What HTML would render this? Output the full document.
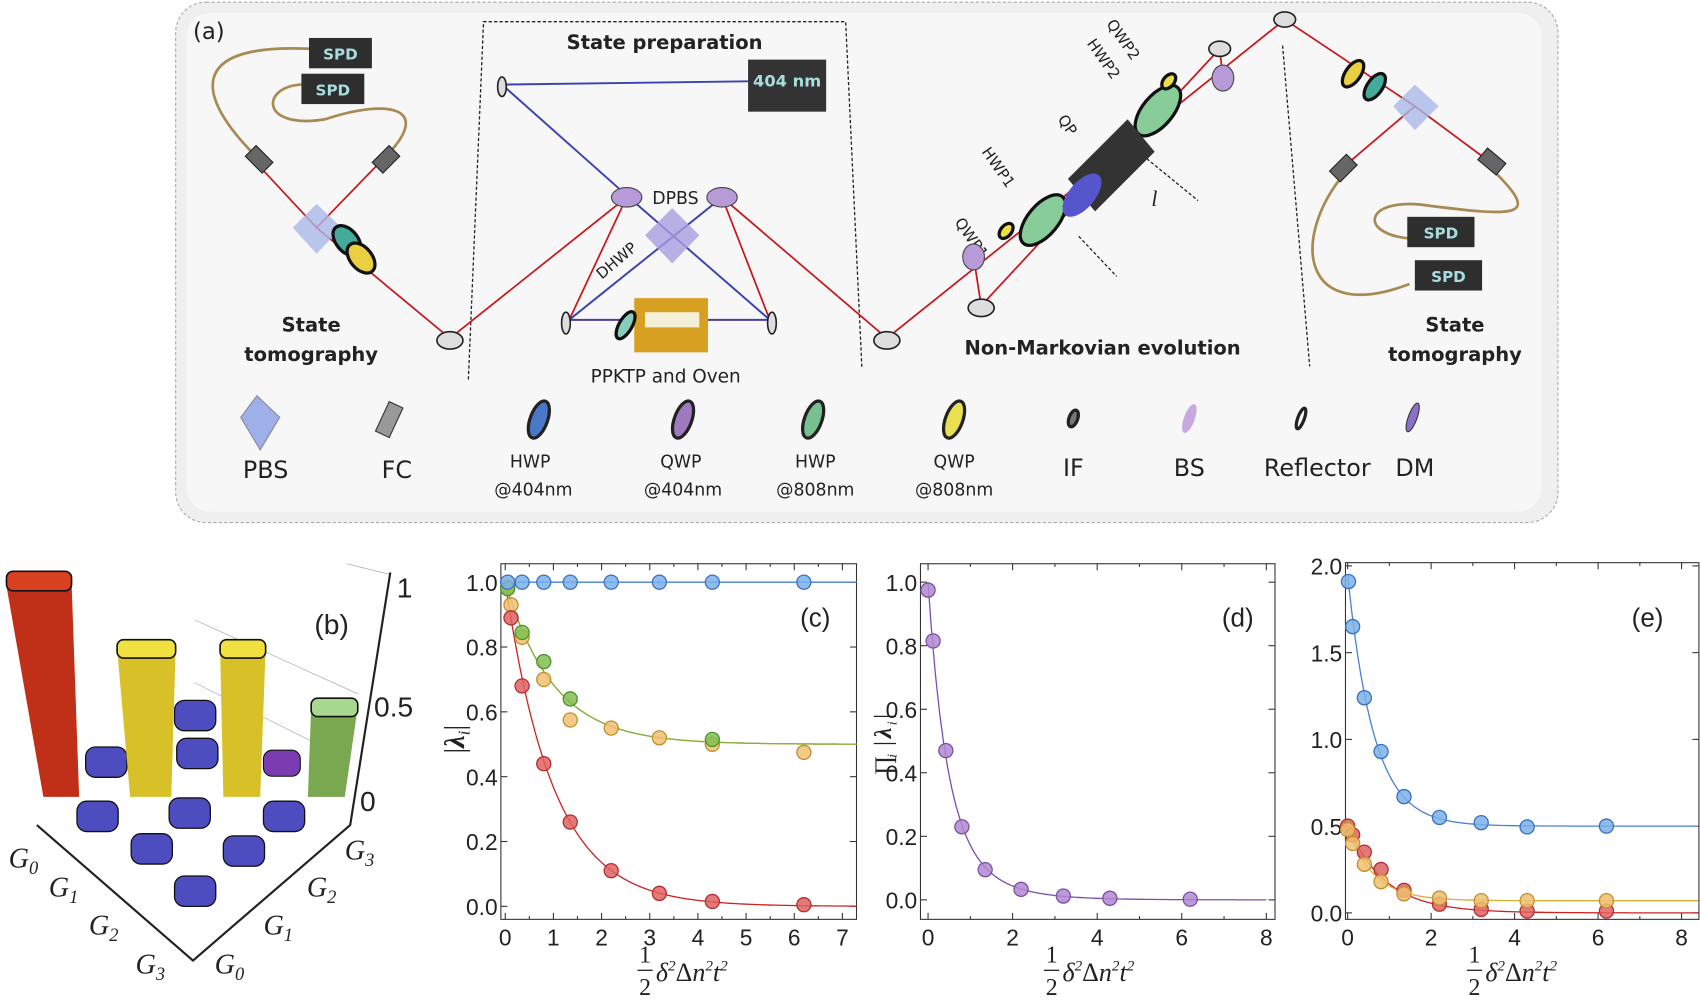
<!DOCTYPE html>
<html><head><meta charset="utf-8"><style>
html,body{margin:0;padding:0;background:#fff;width:1700px;height:1005px;overflow:hidden}
svg{display:block}
.t{font-family:"DejaVu Sans","Liberation Sans",sans-serif;fill:#222}
.n{font-family:"Liberation Sans Narrow","Liberation Sans",sans-serif;fill:#222}
.s{font-family:"Liberation Serif",serif;fill:#222}
</style></head><body>
<svg id="sv" width="1700" height="1005" viewBox="0 0 1568 927" preserveAspectRatio="none" xmlns="http://www.w3.org/2000/svg">
<rect x="162" y="2" width="1275" height="480" rx="28" fill="#efefef" stroke="#aaa" stroke-dasharray="3,2"/>
<rect x="172" y="12" width="1250" height="460" rx="22" fill="#f7f7f7"/>
<text x="178" y="36" class="t" font-size="21">(a)</text>
<g fill="none" stroke="#222" stroke-dasharray="3,2" stroke-width="1.2">
<path d="M432,350 L446,20 L780,20 L795,340"/><path d="M1183,42 L1208,338"/>
<path d="M1050,140 L1105,185"/><path d="M995,218 L1030,255"/>
</g>
<g class="t" font-weight="bold" font-size="18" text-anchor="middle">
<text x="613" y="45">State preparation</text>
<text x="287" y="306">State</text><text x="287" y="333">tomography</text>
<text x="1342" y="306">State</text><text x="1342" y="333">tomography</text>
<text x="1017" y="327" font-weight="bold">Non-Markovian evolution</text>
</g>
<text x="614" y="353" class="t" font-size="17" text-anchor="middle">PPKTP and Oven</text>
<text x="623" y="188" class="t" font-size="16" text-anchor="middle">DPBS</text>
<text x="555" y="258" class="t" font-size="14" transform="rotate(-40 555 258)">DHWP</text>
<text x="880" y="205" class="t" font-size="14" transform="rotate(55 880 205)">QWP1</text>
<text x="905" y="140" class="t" font-size="14" transform="rotate(55 905 140)">HWP1</text>
<text x="975" y="110" class="t" font-size="14" transform="rotate(55 975 110)">QP</text>
<text x="1002" y="40" class="t" font-size="14" transform="rotate(55 1002 40)">HWP2</text>
<text x="1020" y="22" class="t" font-size="14" transform="rotate(55 1020 22)">QWP2</text>
<text x="1062" y="190" class="s" font-size="20" font-style="italic">l</text>
<g fill="none" stroke="#a88a55" stroke-width="2.5">
<path d="M240,148 C180,90 170,40 285,45"/><path d="M355,145 C400,100 360,90 300,110 C240,120 240,80 278,78"/>
<path d="M1240,160 C1190,220 1200,300 1300,262"/><path d="M1380,160 C1420,200 1400,200 1320,190 C1260,180 1250,215 1300,220"/>
</g>
<g fill="none" stroke="#c8161d" stroke-width="1.6">
<path d="M238,152 L292,210 L355,145"/><path d="M292,210 L415,312 L578,182"/>
<path d="M666,182 L818,312 L1185,18 L1305,98 L1375,150"/><path d="M1305,98 L1238,155"/>
<path d="M898,237 L905,282 L1125,45 L1128,72"/>
<path d="M578,182 L525,295 L710,295 L666,182"/>
</g>
<g fill="none" stroke="#3a44b0" stroke-width="1.8">
<path d="M690,75 L463,78 L580,182"/><path d="M580,182 L710,295 M666,182 L525,295 L710,295"/>
</g>
<rect x="285" y="35" width="58" height="28" fill="#2e2e2e"/><text x="314" y="55" class="t" font-size="14" font-weight="bold" text-anchor="middle" style="fill:#a8dde0">SPD</text>
<rect x="278" y="68" width="58" height="28" fill="#2e2e2e"/><text x="307" y="88" class="t" font-size="14" font-weight="bold" text-anchor="middle" style="fill:#a8dde0">SPD</text>
<rect x="1298" y="200" width="62" height="28" fill="#2e2e2e"/><text x="1329" y="220" class="t" font-size="14" font-weight="bold" text-anchor="middle" style="fill:#a8dde0">SPD</text>
<rect x="1305" y="240" width="62" height="28" fill="#2e2e2e"/><text x="1336" y="260" class="t" font-size="14" font-weight="bold" text-anchor="middle" style="fill:#a8dde0">SPD</text>
<rect x="690" y="55" width="72" height="48" fill="#333"/><text x="726" y="80" class="t" font-size="15" font-weight="bold" text-anchor="middle" style="fill:#a8dde0">404 nm</text>
<rect x="585" y="275" width="68" height="50" fill="#d8a020"/><rect x="595" y="288" width="50" height="14" fill="#f4f0d8"/>
<polygon points="620,192 645,217 620,243 595,217" fill="#a89ee0" opacity=".8"/>
<polygon points="292,188 315,210 292,234 270,210" fill="#aab8e8" opacity=".8"/>
<polygon points="1305,78 1327,98 1305,120 1285,98" fill="#aab8e8" opacity=".8"/>
<g stroke="#111" stroke-width="3">
<ellipse cx="320" cy="222" rx="10" ry="16" fill="#4a9" transform="rotate(-40 320 222)"/>
<ellipse cx="333" cy="238" rx="10" ry="16" fill="#e8d040" transform="rotate(-40 333 238)"/>
<ellipse cx="1248" cy="68" rx="7" ry="14" fill="#e8d040" transform="rotate(35 1248 68)"/>
<ellipse cx="1268" cy="80" rx="7" ry="14" fill="#4a9" transform="rotate(35 1268 80)"/>
<ellipse cx="962" cy="203" rx="14" ry="28" fill="#8c9" transform="rotate(40 962 203)"/>
<ellipse cx="1068" cy="102" rx="14" ry="28" fill="#8c9" transform="rotate(40 1068 102)"/>
<ellipse cx="928" cy="213" rx="5" ry="8" fill="#ed4" transform="rotate(40 928 213)"/>
<ellipse cx="1078" cy="75" rx="5" ry="8" fill="#ed4" transform="rotate(40 1078 75)"/>
<ellipse cx="577" cy="300" rx="6" ry="14" fill="#8cb" transform="rotate(30 577 300)"/>
</g>
<path d="M985,165 L1040,110 L1065,140 L1010,195 Z" fill="#333"/>
<ellipse cx="998" cy="180" rx="12" ry="24" fill="#55c" transform="rotate(40 998 180)"/>
<g fill="#b89ad8" stroke="#444"><ellipse cx="578" cy="182" rx="14" ry="9"/><ellipse cx="666" cy="182" rx="14" ry="9"/><ellipse cx="898" cy="237" rx="10" ry="12"/><ellipse cx="1128" cy="72" rx="10" ry="12"/></g>
<g fill="#ddd" stroke="#222" stroke-width="1.5"><ellipse cx="415" cy="314" rx="12" ry="8"/><ellipse cx="818" cy="314" rx="12" ry="8"/><ellipse cx="905" cy="284" rx="12" ry="8"/><ellipse cx="1185" cy="18" rx="10" ry="7"/><ellipse cx="1125" cy="45" rx="10" ry="7"/><ellipse cx="463" cy="80" rx="4" ry="9"/><ellipse cx="522" cy="298" rx="4" ry="10"/><ellipse cx="712" cy="298" rx="4" ry="10"/></g>
<g fill="#666" stroke="#222"><rect x="228" y="140" width="22" height="14" transform="rotate(45 239 147)"/><rect x="345" y="140" width="22" height="14" transform="rotate(-45 356 147)"/><rect x="1228" y="148" width="22" height="14" transform="rotate(-45 1239 155)"/><rect x="1365" y="142" width="22" height="14" transform="rotate(40 1376 149)"/></g>
<polygon points="237,365 258,385 240,415 222,385" fill="#9fb0e8" stroke="#889"/>
<rect x="352" y="372" width="14" height="30" fill="#999" stroke="#333" transform="rotate(25 359 387)"/>
<g stroke="#222" stroke-width="3">
<ellipse cx="497" cy="387" rx="8" ry="18" fill="#4a78c8" transform="rotate(20 497 387)"/>
<ellipse cx="630" cy="387" rx="8" ry="18" fill="#a07ac0" transform="rotate(20 630 387)"/>
<ellipse cx="750" cy="387" rx="8" ry="18" fill="#77c090" transform="rotate(20 750 387)"/>
<ellipse cx="880" cy="387" rx="8" ry="18" fill="#e8e050" transform="rotate(20 880 387)"/>
<ellipse cx="990" cy="386" rx="4" ry="8" fill="#777" transform="rotate(20 990 386)"/>
<ellipse cx="1200" cy="386" rx="3" ry="10" fill="#fff" transform="rotate(20 1200 386)"/>
</g>
<ellipse cx="1097" cy="386" rx="5" ry="14" fill="#c8a8e0" transform="rotate(20 1097 386)"/>
<ellipse cx="1303" cy="385" rx="4" ry="14" fill="#8a70c8" stroke="#333" transform="rotate(20 1303 385)"/>
<g class="t" font-size="22" text-anchor="middle"><text x="245" y="441">PBS</text><text x="366" y="441">FC</text><text x="990" y="439">IF</text><text x="1097" y="439">BS</text><text x="1215" y="439">Reflector</text><text x="1305" y="439">DM</text></g>
<g class="t" font-size="16" text-anchor="middle"><text x="489" y="431">HWP</text><text x="492" y="457">@404nm</text><text x="628" y="431">QWP</text><text x="630" y="457">@404nm</text><text x="752" y="431">HWP</text><text x="752" y="457">@808nm</text><text x="880" y="431">QWP</text><text x="880" y="457">@808nm</text></g>

<g stroke="#444" stroke-width="0.6" fill="none" opacity=".5"><path d="M180,572 L330,640"/><path d="M320,520 L360,530"/><path d="M180,630 L320,700"/></g>
<path d="M34,761 L178,886 L323,761 L360,528" fill="none" stroke="#222" stroke-width="2"/>
<g class="n" font-size="26"><text x="366" y="551">1</text><text x="345" y="661">0.5</text><text x="332" y="748">0</text><text x="290" y="585">(b)</text></g>
<g id="squares"></g>
<polygon points="5,535 66,537 73,735 40,735" fill="#c03018"/><rect x="6" y="527" width="60" height="18" rx="6" fill="#d84020" stroke="#111" stroke-width="1.5"/>
<polygon points="108,598 162,598 158,735 120,735" fill="#d8c028"/><rect x="108" y="590" width="54" height="17" rx="6" fill="#f0e040" stroke="#111" stroke-width="1.5"/>
<polygon points="203,598 245,598 240,735 206,735" fill="#d8c028"/><rect x="203" y="590" width="42" height="17" rx="6" fill="#f0e040" stroke="#111" stroke-width="1.5"/>
<polygon points="287,652 330,652 318,735 284,735" fill="#7aa850"/><rect x="287" y="644" width="43" height="17" rx="6" fill="#a8d890" stroke="#111" stroke-width="1.5"/>
<g class="s" font-style="italic" font-size="26">
<text x="8" y="800">G<tspan font-size="17" dy="6">0</tspan></text><text x="45" y="827">G<tspan font-size="17" dy="6">1</tspan></text><text x="82" y="862">G<tspan font-size="17" dy="6">2</tspan></text><text x="125" y="898">G<tspan font-size="17" dy="6">3</tspan></text>
<text x="198" y="898">G<tspan font-size="17" dy="6">0</tspan></text><text x="243" y="862">G<tspan font-size="17" dy="6">1</tspan></text><text x="283" y="827">G<tspan font-size="17" dy="6">2</tspan></text><text x="318" y="793">G<tspan font-size="17" dy="6">3</tspan></text>
</g>
<g id="plots"></g>
</svg>
<script>
var NS="http://www.w3.org/2000/svg",P=document.getElementById('plots');
function el(t,a,txt,par){var e=document.createElementNS(NS,t);for(var k in a)e.setAttribute(k,a[k]);if(txt!=null)e.textContent=txt;(par||P).appendChild(e);return e;}
[[180,660],[98,703],[182,695],[90,753],[175,750],[262,753],[140,783],[225,785],[180,822]].forEach(function(p){
el('rect',{x:p[0]-19,y:p[1]-14,width:38,height:28,rx:9,fill:'#4d4dc0',stroke:'#111','stroke-width':1.2},null,document.getElementById('squares'));});
el('rect',{x:243,y:692,width:34,height:24,rx:8,fill:'#7a3cb0',stroke:'#111'},null,document.getElementById('squares'));
function panel(o){
 el('rect',{x:o.x0,y:o.y0,width:o.x1-o.x0,height:o.y1-o.y0,fill:'none',stroke:'#333','stroke-width':1});
 function X(v){return o.xa+o.xs*v} function Y(v){return o.ya-o.ys*v}
 o.xt.forEach(function(v){el('line',{x1:X(v),x2:X(v),y1:o.y1,y2:o.y1-6,stroke:'#333'});el('line',{x1:X(v),x2:X(v),y1:o.y0,y2:o.y0+6,stroke:'#333'});
  el('text',{x:X(v),y:o.y1+24,'class':'n','font-size':21,'text-anchor':'middle'},String(v));});
 o.yt.forEach(function(v){el('line',{x1:o.x0,x2:o.x0+6,y1:Y(v),y2:Y(v),stroke:'#333'});el('line',{x1:o.x1,x2:o.x1-6,y1:Y(v),y2:Y(v),stroke:'#333'});
  el('text',{x:o.x0-3,y:Y(v)+8,'class':'n','font-size':21,'text-anchor':'end'},v.toFixed(1));});
 o.mt.forEach(function(v){el('line',{x1:X(v),x2:X(v),y1:o.y1,y2:o.y1-3,stroke:'#333'});el('line',{x1:X(v),x2:X(v),y1:o.y0,y2:o.y0+3,stroke:'#333'});});
 o.ser.forEach(function(s){var d='';for(var v=0;v<=o.xmax;v+=0.02){d+=(d?'L':'M')+X(v).toFixed(1)+','+Y(s.f(v)).toFixed(1);}
  el('path',{d:d,fill:'none',stroke:s.lc,'stroke-width':1.2});});
 o.ser.forEach(function(s){s.p.forEach(function(p){el('circle',{cx:X(p[0]),cy:Y(p[1]),r:6.5,fill:s.fc,stroke:s.sc,'stroke-width':1.2,'fill-opacity':.85});});});
 el('text',{x:o.lx,y:578,'class':'n','font-size':24},o.lab);
 var cx=o.cx;
 el('text',{x:cx-8,y:888,'class':'s','font-size':22,'text-anchor':'middle'},'1');
 el('line',{x1:cx-15,x2:cx-1,y1:895,y2:895,stroke:'#222','stroke-width':1.2});
 el('text',{x:cx-8,y:918,'class':'s','font-size':22,'text-anchor':'middle'},'2');
 var t=el('text',{x:cx+2,y:905,'class':'s','font-size':24,'font-style':'italic'});
 t.innerHTML='δ<tspan font-size="14" dy="-10">2</tspan><tspan dy="10" font-style="normal">Δ</tspan>n<tspan font-size="14" dy="-10">2</tspan><tspan dy="10">t</tspan><tspan font-size="14" dy="-10">2</tspan>';
}
var E=Math.exp,bl={fc:'#7ab0e8',sc:'#3a70c0',lc:'#4a80d0'},rd={fc:'#e06060',sc:'#b03030',lc:'#d02020'},yl={fc:'#f0c070',sc:'#c09030',lc:'#d8b030'},gr={fc:'#80c050',sc:'#509030',lc:'#80b040'};
function S(b,f,p){return {fc:b.fc,sc:b.sc,lc:b.lc,f:f,p:p}}
panel({x0:462,x1:790,y0:520,y1:848,xa:466,xs:44.43,ya:836,ys:299,xmax:7.3,xt:[0,1,2,3,4,5,6,7],yt:[0,0.2,0.4,0.6,0.8,1.0],mt:[0.5,1.5,2.5,3.5,4.5,5.5,6.5],lab:'(c)',lx:738,cx:603,
 ser:[S(yl,function(x){return .5+.5*E(-x)},[[.05,.985],[.12,.93],[.35,.83],[.8,.70],[1.35,.575],[2.2,.55],[3.2,.52],[4.3,.50],[6.2,.475]]),
 S(gr,function(x){return .5+.5*E(-x)},[[.05,.98],[.35,.845],[.8,.755],[1.35,.64],[4.3,.515]]),
 S(rd,function(x){return E(-x)},[[.12,.89],[.35,.68],[.8,.44],[1.35,.26],[2.2,.11],[3.2,.04],[4.3,.015],[6.2,.005]]),
 S(bl,function(x){return 1},[[.05,1],[.35,1],[.8,1],[1.35,1],[2.2,1],[3.2,1],[4.3,1],[6.2,1]])]});
var pu={fc:'#b088d0',sc:'#7a50a8',lc:'#7a4fb0'};
panel({x0:849,x1:1176,y0:520,y1:848,xa:856,xs:39,ya:830,ys:293,xmax:8,xt:[0,2,4,6,8],yt:[0,0.2,0.4,0.6,0.8,1.0],mt:[1,3,5,7],lab:'(d)',lx:1127,cx:978,
 ser:[S(pu,function(x){var a=.5+.5*E(-x);return E(-x)*a*a},[[0,.975],[.12,.815],[.42,.47],[.8,.23],[1.35,.095],[2.2,.033],[3.2,.012],[4.3,.005],[6.2,.002]])]});
panel({x0:1241,x1:1567,y0:519,y1:848,xa:1243,xs:38.5,ya:842,ys:160,xmax:8.4,xt:[0,2,4,6,8],yt:[0,0.5,1.0,1.5,2.0],mt:[1,3,5,7],lab:'(e)',lx:1505,cx:1368,
 ser:[S(bl,function(x){return .5+1.45*E(-1.6*x)},[[.02,1.91],[.12,1.65],[.4,1.24],[.8,.93],[1.35,.67],[2.2,.55],[3.2,.52],[4.3,.495],[6.2,.5]]),
 S(rd,function(x){return .5*E(-1.1*x)},[[0,.5],[.12,.45],[.4,.35],[.8,.25],[1.35,.13],[2.2,.05],[3.2,.02],[4.3,.01],[6.2,.01]]),
 S(yl,function(x){return .07+.42*E(-1.6*x)},[[0,.48],[.12,.40],[.4,.28],[.8,.18],[1.35,.11],[2.2,.085],[3.2,.07],[4.3,.07],[6.2,.07]])]});
var t1=el('text',{x:0,y:0,'class':'s','font-size':26,transform:'translate(428,695) rotate(-90)'});t1.innerHTML='|<tspan font-style="italic" font-weight="bold">λ</tspan><tspan font-size="16" font-style="italic" dy="5">i</tspan><tspan dy="-5">|</tspan>';
var g2=el('g',{transform:'translate(822,715) rotate(-90)'});
el('text',{x:0,y:0,'class':'s','font-size':22},'∏',g2);
el('text',{x:16,y:5,'class':'s','font-size':13,'font-style':'italic'},'i',g2);
el('text',{x:27,y:0,'class':'s','font-size':22},'|',g2);
el('text',{x:34,y:0,'class':'s','font-size':22,'font-style':'italic','font-weight':'bold'},'λ',g2);
el('text',{x:46,y:5,'class':'s','font-size':13,'font-style':'italic'},'i',g2);
el('text',{x:52,y:0,'class':'s','font-size':22},'|',g2);
</script>
</body></html>
